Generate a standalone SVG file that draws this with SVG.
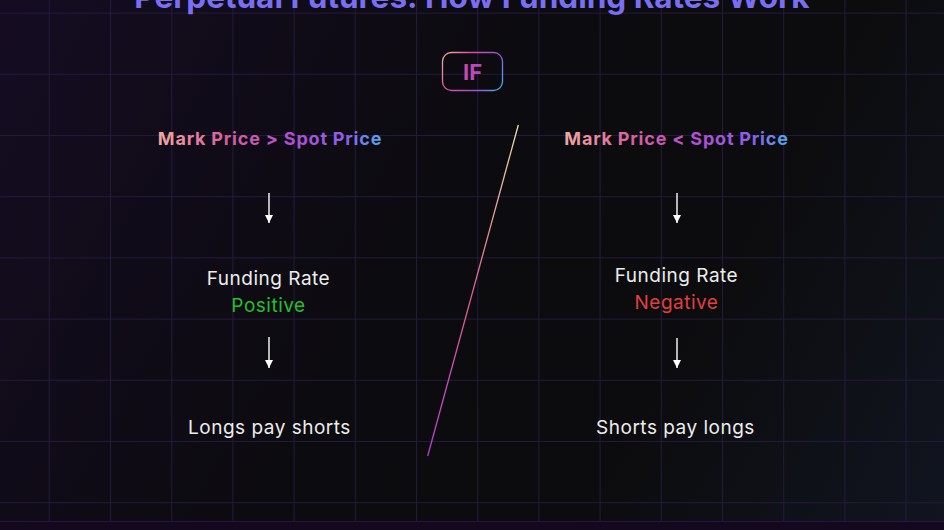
<svg xmlns="http://www.w3.org/2000/svg" width="944" height="530" viewBox="0 0 944 530">
<defs>
<linearGradient id="bg" x1="0" y1="0" x2="944" y2="530" gradientUnits="userSpaceOnUse">
<stop offset="0" stop-color="#150c22"/>
<stop offset="0.45" stop-color="#0c0b0f"/>
<stop offset="0.7" stop-color="#0c0c0e"/>
<stop offset="1" stop-color="#111520"/>
</linearGradient>
<linearGradient id="txtL" x1="158" y1="0" x2="381" y2="0" gradientUnits="userSpaceOnUse">
<stop offset="0" stop-color="#f0a8a0"/>
<stop offset="0.3" stop-color="#d8609a"/>
<stop offset="0.6" stop-color="#b050d0"/>
<stop offset="0.85" stop-color="#8a60ee"/>
<stop offset="1" stop-color="#50a8ec"/>
</linearGradient>
<linearGradient id="txtR" x1="565" y1="0" x2="787" y2="0" gradientUnits="userSpaceOnUse">
<stop offset="0" stop-color="#f0a8a0"/>
<stop offset="0.3" stop-color="#d8609a"/>
<stop offset="0.6" stop-color="#b050d0"/>
<stop offset="0.85" stop-color="#8a60ee"/>
<stop offset="1" stop-color="#50a8ec"/>
</linearGradient>
<linearGradient id="ifStroke" x1="442" y1="52" x2="502" y2="90" gradientUnits="userSpaceOnUse">
<stop offset="0" stop-color="#f0b8a0"/>
<stop offset="0.35" stop-color="#d8509a"/>
<stop offset="0.7" stop-color="#9850e0"/>
<stop offset="1" stop-color="#40b8e8"/>
</linearGradient>
<linearGradient id="ifText" x1="462" y1="0" x2="483" y2="0" gradientUnits="userSpaceOnUse">
<stop offset="0" stop-color="#c84aa8"/>
<stop offset="1" stop-color="#b048c8"/>
</linearGradient>
<linearGradient id="diag" x1="518" y1="125" x2="428" y2="456" gradientUnits="userSpaceOnUse">
<stop offset="0" stop-color="#ece4a8"/>
<stop offset="0.5" stop-color="#e06090"/>
<stop offset="1" stop-color="#b040d8"/>
</linearGradient>
<marker id="ah" viewBox="0 0 10 10" refX="10" refY="5" markerWidth="8" markerHeight="8" markerUnits="userSpaceOnUse" orient="auto">
<path d="M0,0 L10,5 L0,10 Z" fill="#ffffff"/>
</marker>
<pattern id="grid" x="48.8" y="12.6" width="61.2" height="61.2" patternUnits="userSpaceOnUse">
<path d="M0.5,0 V61.2 M0,0.5 H61.2" stroke="#221a3c" stroke-width="1" fill="none"/>
</pattern>
</defs>
<style>
.t{font-family:Inter,"Noto Sans","Liberation Sans",sans-serif;text-anchor:middle;}
.cond{font-size:18px;font-weight:700;letter-spacing:0.8px;}
.body{font-size:19px;fill:#ececec;letter-spacing:0.5px;}
.arrow{stroke:#ffffff;stroke-width:1.4;fill:none;}
</style>
<rect width="944" height="530" fill="url(#bg)"/>
<rect width="944" height="521" fill="url(#grid)"/>
<rect x="0" y="521" width="944" height="9" fill="#14081f"/>
<line x1="0" y1="521.5" x2="944" y2="521.5" stroke="#2a1444" stroke-width="1"/>
<text class="t" x="472" y="7.5" font-size="31.5" font-weight="700" fill="#7a6ef2">Perpetual Futures: How Funding Rates Work</text>

<g id="if-node">
<rect x="442.5" y="52.5" width="60" height="38" rx="9" fill="none" stroke="url(#ifStroke)" stroke-width="1.3"/>
<text class="t" x="472.5" y="79.5" font-size="22" font-weight="700" fill="url(#ifText)">IF</text>
</g>

<g id="cond-left">
<text class="t cond" x="270" y="145" fill="url(#txtL)">Mark Price &gt; Spot Price</text>
</g>
<g id="cond-right">
<text class="t cond" x="676.5" y="145" fill="url(#txtR)">Mark Price &lt; Spot Price</text>
</g>
<g id="rate-left">
<text class="t body" x="268.5" y="285">Funding Rate</text>
<text class="t body" x="268.5" y="312" style="fill:#22c02c">Positive</text>
</g>
<g id="rate-right">
<text class="t body" x="676.5" y="282">Funding Rate</text>
<text class="t body" x="676.5" y="309" style="fill:#e04040">Negative</text>
</g>
<g id="result-left">
<text class="t body" x="269.5" y="434">Longs pay shorts</text>
</g>
<g id="result-right">
<text class="t body" x="675.5" y="434">Shorts pay longs</text>
</g>

<g id="connectors">
<line class="arrow" x1="269" y1="193" x2="269" y2="223" marker-end="url(#ah)"/>
<line class="arrow" x1="269" y1="337" x2="269" y2="368" marker-end="url(#ah)"/>
<line class="arrow" x1="677" y1="193" x2="677" y2="223" marker-end="url(#ah)"/>
<line class="arrow" x1="677" y1="338" x2="677" y2="368" marker-end="url(#ah)"/>
<line x1="518.3" y1="125" x2="427.7" y2="456" stroke="url(#diag)" stroke-width="1.3"/>
</g>
</svg>
